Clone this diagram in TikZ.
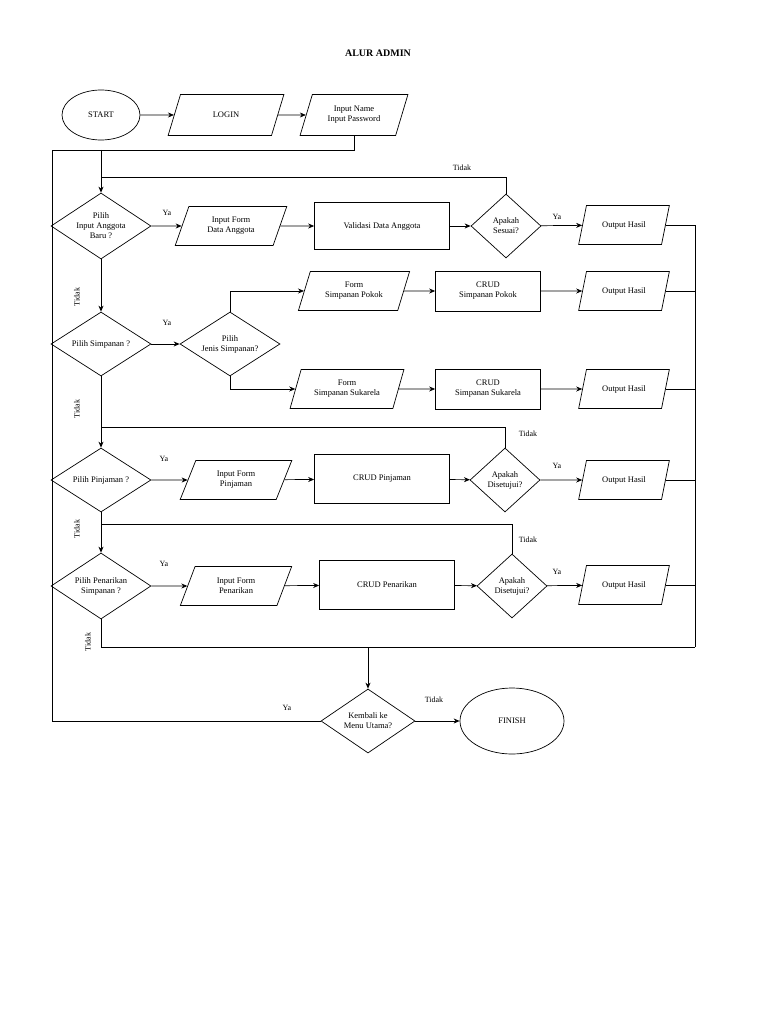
\documentclass[tikz,border=0pt]{standalone}
\usepackage{fontspec}
\setmainfont{Liberation Serif}
\usetikzlibrary{shapes.geometric,arrows.meta}
\begin{document}
\begin{tikzpicture}[x=1pt,y=-1pt,
  every node/.style={font=\fontsize{8.5}{10}\selectfont, align=center},
  line/.style={line width=0.7pt},
  arr/.style={line width=0.7pt,-{Stealth[length=6pt,width=5pt]}},
  dec/.style={diamond,draw,line width=0.7pt,inner sep=0pt,minimum width=#1,minimum height=64pt,aspect=1.5},
  dec/.default=100pt,
  io/.style={trapezium,draw,line width=0.7pt,trapezium left angle=70,trapezium right angle=110,trapezium stretches=true,minimum width=#1,minimum height=39pt},
  io/.default=112pt,
  proc/.style={rectangle,draw,line width=0.7pt,minimum width=#1,minimum height=40pt},
  term/.style={ellipse,draw,line width=0.7pt},
  lbl/.style={font=\fontsize{8}{9}\selectfont},
  rlbl/.style={font=\fontsize{8}{9}\selectfont,rotate=90}]
\useasboundingbox (0,0) rectangle (768,1024);
\node[font=\fontsize{10}{12}\selectfont\bfseries] (title) at (378,53) {ALUR ADMIN};

\node[term,minimum width=78pt,minimum height=50pt] (start) at (101,115) {START};
\node[io=116pt,minimum height=41pt] (login) at (226,115) {LOGIN};
\node[io=108pt,minimum height=41pt] (inp) at (354,115) {Input Name\\Input Password};

\node[dec,minimum height=66pt] (d1) at (101,226) {Pilih\\Input Anggota\\Baru ?};
\node[io] (fa) at (231,226) {Input Form\\Data Anggota};
\node[proc=135pt,minimum height=47pt] (va) at (382,226) {Validasi Data Anggota};
\node[dec=70pt] (s1) at (506,226) {Apakah\\Sesuai?};
\node[io=91pt] (o1) at (624,225) {Output Hasil};

\node[dec] (d2) at (101,344) {Pilih Simpanan ?};
\node[dec] (js) at (230,344) {Pilih\\Jenis Simpanan?};
\node[io] (fp) at (354,291) {Form\\Simpanan Pokok};
\node[proc=105pt] (cp) at (488,291) {CRUD\\Simpanan Pokok};
\node[io=91pt] (o2) at (624,291) {Output Hasil};
\node[io=114pt] (fs) at (347,389) {Form\\Simpanan Sukarela};
\node[proc=105pt] (cs) at (488,389) {CRUD\\Simpanan Sukarela};
\node[io=91pt] (o3) at (624,389) {Output Hasil};

\node[dec] (d3) at (101,480) {Pilih Pinjaman ?};
\node[io] (fj) at (236,480) {Input Form\\Pinjaman};
\node[proc=135pt,minimum height=49pt] (cj) at (382,479) {CRUD Pinjaman};
\node[dec=70pt] (s3) at (505,480) {Apakah\\Disetujui?};
\node[io=91pt] (o4) at (624,480) {Output Hasil};

\node[dec,minimum height=66pt] (d4) at (101,586) {Pilih Penarikan\\Simpanan ?};
\node[io] (fr) at (236,586) {Input Form\\Penarikan};
\node[proc=135pt,minimum height=49pt] (cr) at (387,585) {CRUD Penarikan};
\node[dec=70pt] (s4) at (512,586) {Apakah\\Disetujui?};
\node[io=91pt] (o5) at (624,585) {Output Hasil};

\node[dec=94pt] (kb) at (368,721) {Kembali ke\\Menu Utama?};
\node[term,minimum width=104pt,minimum height=66pt] (fin) at (512,721) {FINISH};

\coordinate (j0) at (101,150);
\coordinate (lft) at (52,150);
\coordinate (l1) at (101,177);
\coordinate (l3) at (101,427);
\coordinate (l4) at (101,524);
\coordinate (rb) at (695,647);
\coordinate (mb) at (368,647);

% top row
\draw[arr] (start) -- (login);
\draw[arr] (login) -- (inp);
\draw[line] (inp.south) |- (lft) |- (kb.west);
\draw[arr] (j0) -- (d1.north);

% anggota
\draw[arr] (d1) -- (fa);
\draw[arr] (fa) -- (va);
\draw[arr] (va) -- (s1);
\draw[arr] (s1) -- (o1);
\draw[line] (s1.north) |- (l1);
\draw[line] (o1.east) -- (o1.east -| rb) -- (rb);

% simpanan
\draw[arr] (d1.south) -- (d2.north);
\draw[arr] (d2) -- (js);
\draw[arr] (js.north) |- (fp.west);
\draw[arr] (js.south) |- (fs.west);
\draw[arr] (fp) -- (cp);
\draw[arr] (cp) -- (o2);
\draw[arr] (fs) -- (cs);
\draw[arr] (cs) -- (o3);
\draw[line] (o2.east) -- (o2.east -| rb);
\draw[line] (o3.east) -- (o3.east -| rb);

% pinjaman
\draw[arr] (d2.south) -- (d3.north);
\draw[arr] (d3) -- (fj);
\draw[arr] (fj) -- (cj);
\draw[arr] (cj) -- (s3);
\draw[arr] (s3) -- (o4);
\draw[line] (s3.north) |- (l3);
\draw[line] (o4.east) -- (o4.east -| rb);

% penarikan
\draw[arr] (d3.south) -- (d4.north);
\draw[arr] (d4) -- (fr);
\draw[arr] (fr) -- (cr);
\draw[arr] (cr) -- (s4);
\draw[arr] (s4) -- (o5);
\draw[line] (s4.north) |- (l4);
\draw[line] (o5.east) -- (o5.east -| rb);
\draw[line] (d4.south) |- (rb);

% end
\draw[arr] (mb) -- (kb.north);
\draw[arr] (kb) -- (fin);

% labels
\node[lbl] (t1) at (462,168) {Tidak};
\node[lbl] (y1) at (167,213) {Ya};
\node[lbl] (y1b) at (557,217) {Ya};
\node[rlbl] (t2) at (77,297) {Tidak};
\node[lbl] (y2) at (167,323) {Ya};
\node[rlbl] (t3) at (77,409) {Tidak};
\node[lbl] (t3b) at (528,434) {Tidak};
\node[lbl] (y3) at (164,459) {Ya};
\node[lbl] (y3b) at (557,466) {Ya};
\node[rlbl] (t4) at (77,529) {Tidak};
\node[lbl] (t4b) at (528,540) {Tidak};
\node[lbl] (y4) at (164,564) {Ya};
\node[lbl] (y4b) at (557,572) {Ya};
\node[rlbl] (t5) at (88,642) {Tidak};
\node[lbl] (y5) at (287,708) {Ya};
\node[lbl] (t6) at (434,700) {Tidak};
\end{tikzpicture}
\end{document}
